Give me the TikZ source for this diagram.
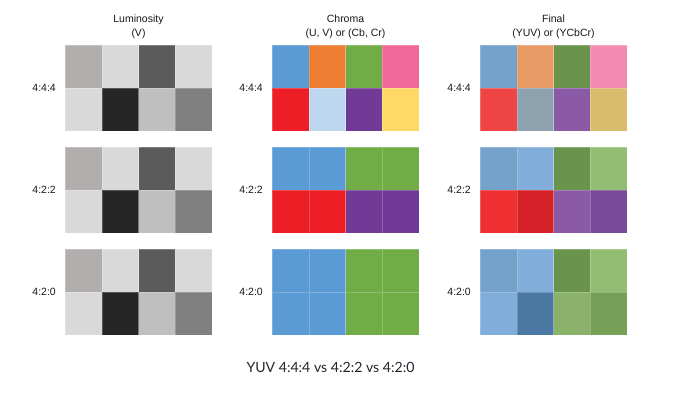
\documentclass[tikz,border=0pt]{standalone}
\usepackage{fontspec}
\setmainfont{Liberation Sans}
\newfontfamily\latofont{Lato}
\definecolor{lA}{HTML}{B1AEAD}
\definecolor{lB}{HTML}{D9D9D9}
\definecolor{lC}{HTML}{5A5B5A}
\definecolor{lD}{HTML}{262626}
\definecolor{lE}{HTML}{BFBFBF}
\definecolor{lF}{HTML}{7F807F}
\definecolor{cBlue}{HTML}{5B9BD5}
\definecolor{cOrange}{HTML}{ED7D31}
\definecolor{cGreen}{HTML}{70AD47}
\definecolor{cPink}{HTML}{F06899}
\definecolor{cRed}{HTML}{EE1E26}
\definecolor{cLBlue}{HTML}{BDD7EE}
\definecolor{cPurple}{HTML}{713A96}
\definecolor{cYellow}{HTML}{FFD966}
\definecolor{fA}{HTML}{74A2CB}
\definecolor{fB}{HTML}{E89A65}
\definecolor{fC}{HTML}{6A934C}
\definecolor{fD}{HTML}{F28BB0}
\definecolor{fE}{HTML}{EF4545}
\definecolor{fF}{HTML}{8EA1AF}
\definecolor{fG}{HTML}{8A5AA7}
\definecolor{fH}{HTML}{D9BD6C}
\definecolor{fI}{HTML}{80ADD9}
\definecolor{fJ}{HTML}{93BD73}
\definecolor{fK}{HTML}{EE3033}
\definecolor{fL}{HTML}{D52027}
\definecolor{fM}{HTML}{784B98}
\definecolor{fN}{HTML}{4A78A3}
\definecolor{fO}{HTML}{8AB26A}
\definecolor{fP}{HTML}{76A057}
\definecolor{capcol}{HTML}{23262E}
\newcommand\cellgrid[3]{%
  \foreach \c [count=\i from 0] in {#3}{%
    \pgfmathsetmacro\cx{#1+mod(\i,4)*36.75}%
    \pgfmathsetmacro\cy{#2+int(\i/4)*43}%
    \path[cellbox, fill=\c] (\cx,\cy) rectangle ++(36.75,43);%
  }%
}
\begin{document}
\begin{tikzpicture}[x=1pt,y=-1pt,
  cellbox/.style={draw=white, draw opacity=0.22, line width=0.5pt},
  rowlabel/.style={anchor=east, inner sep=0pt, text=black!90, font=\fontsize{10.5}{12}\selectfont},
  coltitle/.style={align=center, inner sep=0pt, text=black!90, font=\fontsize{10.5}{14}\selectfont}]
\useasboundingbox[fill=white] (0,0) rectangle (691,396);
% titles
\node[coltitle] (t1) at (138.5,26.5) {Luminosity\\(V)};
\node[coltitle] (t2) at (345.5,26.5) {Chroma\\(U, V) or (Cb, Cr)};
\node[coltitle] (t3) at (553.5,26.5) {Final\\(YUV) or (YCbCr)};
% row labels
\foreach \y/\lab [count=\k] in {88/4:4:4, 190/4:2:2, 292/4:2:0}{
  \node[rowlabel] (la\k) at (56,\y) {\lab};
  \node[rowlabel] (lb\k) at (263,\y) {\lab};
  \node[rowlabel] (lc\k) at (471,\y) {\lab};
}
% luminosity
\foreach \y in {45,147,249}{
  \cellgrid{65}{\y}{lA,lB,lC,lB,lB,lD,lE,lF}
}
% chroma
\cellgrid{272}{45}{cBlue,cOrange,cGreen,cPink,cRed,cLBlue,cPurple,cYellow}
\cellgrid{272}{147}{cBlue,cBlue,cGreen,cGreen,cRed,cRed,cPurple,cPurple}
\cellgrid{272}{249}{cBlue,cBlue,cGreen,cGreen,cBlue,cBlue,cGreen,cGreen}
% final
\cellgrid{480}{45}{fA,fB,fC,fD,fE,fF,fG,fH}
\cellgrid{480}{147}{fA,fI,fC,fJ,fK,fL,fG,fM}
\cellgrid{480}{249}{fA,fI,fC,fJ,fI,fN,fO,fP}
% caption
\node[inner sep=0pt, text=capcol, font=\latofont\fontsize{14.1}{16}\selectfont] (cap) at (330.5,367) {YUV 4:4:4 vs 4:2:2 vs 4:2:0};
\end{tikzpicture}
\end{document}
